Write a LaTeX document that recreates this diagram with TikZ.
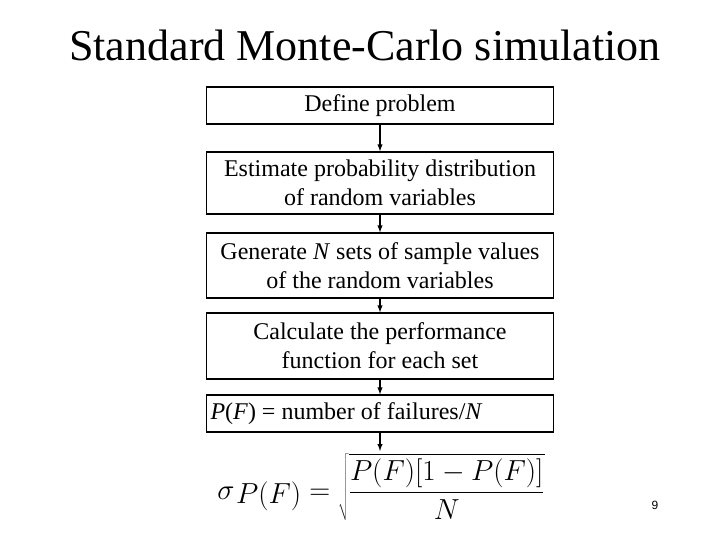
\documentclass[tikz,border=0pt]{standalone}
\usepackage{fix-cm}
\usepackage{fontspec}
\setmainfont{Liberation Serif}
\newfontfamily\pagenofont{Liberation Sans}
\usetikzlibrary{arrows}
\tikzset{
  stage/.style={draw, line width=1.3pt, minimum width=347pt, inner sep=2pt,
    align=center, font=\fontsize{24}{29}\selectfont},
  link/.style={->, line width=1.4pt}
}
\begin{document}
\begin{tikzpicture}[>=latex, x=1pt, y=-1pt]
\useasboundingbox (0,0) rectangle (720,540);
\node[font=\fontsize{44}{50}\selectfont] (title) at (365,45) {Standard Monte-Carlo simulation};

\node[stage, minimum height=37pt] (define) at (380,105.5) {Define problem};
\node[stage, minimum height=62pt] (estimate) at (380,183) {Estimate probability distribution\\of random variables};
\node[stage, minimum height=65pt] (generate) at (380,265.5) {Generate \textit{N} sets of sample values\\of the random variables};
\node[stage, minimum height=66pt] (calc) at (380,346) {Calculate the performance\\function for each set};
\node[stage, minimum height=37pt, text width=339pt, align=flush left] (pf) at (380,413.5) {\textit{P}(\textit{F}) = number of failures/\textit{N}};

\node[font=\fontsize{29}{33}\selectfont, inner sep=0pt] (sigma) at (381,487)
  {$\displaystyle\sigma\mkern1mu\lower4pt\hbox{$P(F)$} = \sqrt{\frac{P(F)[1-P(F)]}{N}}$};
\coordinate (sigtop) at (380,451);
\node[font=\pagenofont\fontsize{12}{14}\selectfont] (pageno) at (655,505) {9};

\draw[link] (define) -- (estimate);
\draw[link] (estimate) -- (generate);
\draw[link] (generate) -- (calc);
\draw[link] (calc) -- (pf);
\draw[link] (pf) -- (sigtop);
\end{tikzpicture}
\end{document}
